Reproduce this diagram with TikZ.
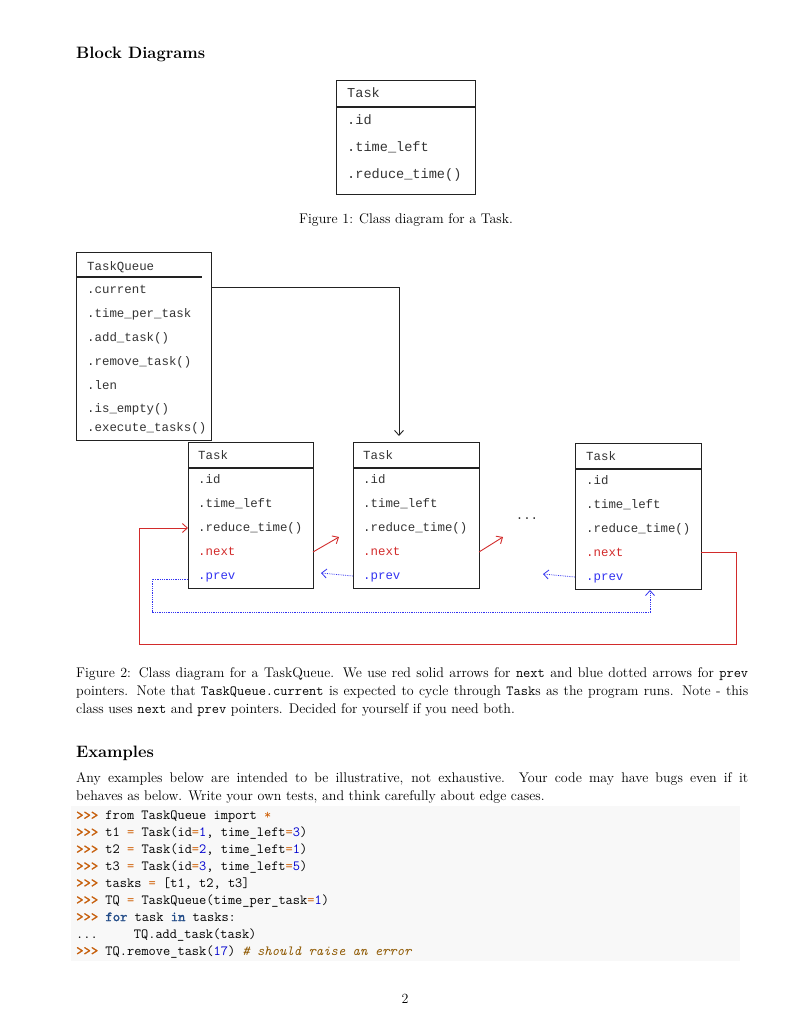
\documentclass[tikz,border=0pt]{standalone}
\usepackage{fontspec}
\newfontfamily\cour{Liberation Mono}
\newfontfamily\kwfont[FakeBold=1.5]{lmmono10-regular.otf}
\usetikzlibrary{arrows.meta}
\definecolor{boxline}{HTML}{222222}
\definecolor{ctext}{HTML}{333333}
\definecolor{nextred}{HTML}{D22B2B}
\definecolor{prevblue}{HTML}{3333F0}
\definecolor{codebg}{HTML}{F8F8F8}
\definecolor{prompt}{HTML}{C65D09}
\definecolor{op}{HTML}{CE5C00}
\definecolor{num}{HTML}{0000CF}
\definecolor{kw}{HTML}{204A87}
\definecolor{cmt}{HTML}{8F5902}
\newcommand{\pr}{\textcolor{prompt}{\kwfont >>>}}
\newcommand{\opc}[1]{\textcolor{op}{#1}}
\newcommand{\nm}[1]{\textcolor{num}{#1}}
\newcommand{\kwc}[1]{\textcolor{kw}{\kwfont #1}}
\begin{document}
\begin{tikzpicture}[x=1pt,y=-1pt,
  box/.style={draw=boxline, line width=1.3pt, inner sep=0, anchor=north west},
  cf/.style={font=\cour\fontsize{12.4}{14}\selectfont, text=ctext, anchor=base west, inner sep=0},
  bigcf/.style={font=\cour\fontsize{13.6}{15}\selectfont, text=ctext, anchor=base west, inner sep=0},
  body/.style={font=\fontsize{14}{18}\selectfont, inner sep=0, anchor=base west},
  para/.style={font=\fontsize{14}{18}\selectfont, inner sep=0, anchor=north west, text width=672pt, align=justify},
  head/.style={font=\fontsize{16.5}{20}\selectfont\bfseries, inner sep=0, anchor=base west},
  code/.style={font=\ttfamily\fontsize{14}{17}\selectfont, inner sep=0, anchor=base west},
  sep/.style={draw=boxline, line width=1.3pt},
  blkarrow/.style={draw=boxline, line width=0.9pt, -{Straight Barb[length=5pt,width=9pt]}},
  redarrow/.style={draw=nextred, line width=0.9pt, -{Straight Barb[length=5pt,width=9pt]}},
  bluearrow/.style={draw=prevblue, line width=0.8pt, densely dotted, -{Straight Barb[length=5pt,width=9pt]}}
]
\useasboundingbox (0,0) rectangle (794,1024);

% ---------- title ----------
\node[head] (title) at (76,59) {Block Diagrams};

% ---------- Figure 1 ----------
\node[box, minimum width=139pt, minimum height=114pt] (f1) at (336,80) {};
\draw[sep] (f1.north west |- 0,107) -- (f1.north east |- 0,107);
\node[bigcf] (f1t) at (347,98) {Task};
\node[bigcf] (f1a) at (347,125) {.id};
\node[bigcf] (f1b) at (347,152) {.time\_left};
\node[bigcf] (f1c) at (347,179) {.reduce\_time()};
\node[body, anchor=base] (cap1) at (406,224) {Figure 1: Class diagram for a Task.};

% ---------- TaskQueue ----------
\node[box, minimum width=135pt, minimum height=188pt] (tq) at (76,252) {};
\draw[sep] (76,277) -- (202,277);
\node[cf] (tq0) at (87,270) {TaskQueue};
\node[cf] (tq1) at (87,293) {.current};
\node[cf] (tq2) at (87,317) {.time\_per\_task};
\node[cf] (tq3) at (87,341) {.add\_task()};
\node[cf] (tq4) at (87,365) {.remove\_task()};
\node[cf] (tq5) at (87,389) {.len};
\node[cf] (tq6) at (87,412) {.is\_empty()};
\node[cf] (tq7) at (87,431) {.execute\_tasks()};

% ---------- Task boxes ----------
\node[box, minimum width=125pt, minimum height=146pt] (t1) at (188,442) {};
\node[box, minimum width=126pt, minimum height=146pt] (t2) at (353,442) {};
\node[box, minimum width=126pt, minimum height=146pt] (t3) at (575,443) {};
\draw[sep] (t1.west |- 0,468) -- (t1.east |- 0,468);
\draw[sep] (t2.west |- 0,468) -- (t2.east |- 0,468);
\draw[sep] (t3.west |- 0,469) -- (t3.east |- 0,469);
\foreach \b/\x/\dy in {1/198/0, 2/363/0, 3/586/1}{
  \node[cf] (t\b h) at (\x,459+\dy) {Task};
  \node[cf] (t\b a) at (\x,483+\dy) {.id};
  \node[cf] (t\b b) at (\x,507+\dy) {.time\_left};
  \node[cf] (t\b c) at (\x,531+\dy) {.reduce\_time()};
  \node[cf, text=nextred] (t\b n) at (\x,555+\dy) {.next};
  \node[cf, text=prevblue] (t\b p) at (\x,579+\dy) {.prev};
}
\node[cf, anchor=base] (dots) at (527,519) {...};

% ---------- current pointer ----------
\coordinate (cur) at (211,287);
\coordinate (curtip) at (399,436);
\draw[blkarrow] (cur) -| (curtip);

% ---------- next pointers ----------
\coordinate (n1s) at (313,552);
\coordinate (n1e) at (339,537);
\coordinate (n2s) at (479,552);
\coordinate (n2e) at (503,537);
\draw[redarrow] (n1s) -- (n1e);
\draw[redarrow] (n2s) -- (n2e);
\coordinate (n3s) at (701,552);
\coordinate (rl1) at (736,552);
\coordinate (rl2) at (736,644);
\coordinate (rl3) at (139,644);
\coordinate (rl4) at (139,528);
\coordinate (n1in) at (188,528);
\draw[redarrow] (n3s) -- (rl1) -- (rl2) -- (rl3) -- (rl4) -- (n1in);

% ---------- prev pointers ----------
\coordinate (p2s) at (353,576);
\coordinate (p2e) at (321,573);
\coordinate (p3s) at (575,577);
\coordinate (p3e) at (543,574);
\draw[bluearrow] (p2s) -- (p2e);
\draw[bluearrow] (p3s) -- (p3e);
\coordinate (p1s) at (188,579);
\coordinate (bl1) at (152,579);
\coordinate (bl2) at (152,612);
\coordinate (bl3) at (650,612);
\coordinate (p3in) at (650,590);
\draw[bluearrow] (p1s) -- (bl1) -- (bl2) -- (bl3) -- (p3in);

% ---------- caption 2 ----------
\node[para] (cap2) at (76,664.4) {\strut Figure 2: Class diagram for a TaskQueue. We use red solid arrows for \texttt{next} and blue dotted arrows for \texttt{prev}\linebreak pointers. Note that \texttt{TaskQueue.current} is expected to cycle through \texttt{Task}s as the program runs. Note - this\linebreak class uses \texttt{next} and \texttt{prev} pointers. Decided for yourself if you need both.};

% ---------- Examples ----------
\node[head] (ex) at (76,757) {Examples};
\node[para] (expara) at (76,769.4) {\strut Any examples below are intended to be illustrative, not exhaustive. Your code may have bugs even if it\linebreak behaves as below. Write your own tests, and think carefully about edge cases.};

\fill[codebg] (71,806) rectangle (740,961);
\node[code] (c1) at (76,819.5) {\pr{} from TaskQueue import \opc{*}};
\node[code] (c2) at (76,836.4) {\pr{} t1 \opc{=} Task(id\opc{=}\nm{1}, time\_left\opc{=}\nm{3})};
\node[code] (c3) at (76,853.4) {\pr{} t2 \opc{=} Task(id\opc{=}\nm{2}, time\_left\opc{=}\nm{1})};
\node[code] (c4) at (76,870.3) {\pr{} t3 \opc{=} Task(id\opc{=}\nm{3}, time\_left\opc{=}\nm{5})};
\node[code] (c5) at (76,887.2) {\pr{} tasks \opc{=} [t1, t2, t3]};
\node[code] (c6) at (76,904.2) {\pr{} TQ \opc{=} TaskQueue(time\_per\_task\opc{=}\nm{1})};
\node[code] (c7) at (76,921.1) {\pr{} \kwc{for} task \kwc{in} tasks:};
\node[code] (c8) at (76,938.0) {...\ \ \ \ \ TQ.add\_task(task)};
\node[code] (c9) at (76,955.0) {\pr{} TQ.remove\_task(\nm{17}) \textcolor{cmt}{\itshape\# should raise an error}};

% ---------- page number ----------
\node[body, anchor=base] (pg) at (405,1003) {2};
\end{tikzpicture}
\end{document}
